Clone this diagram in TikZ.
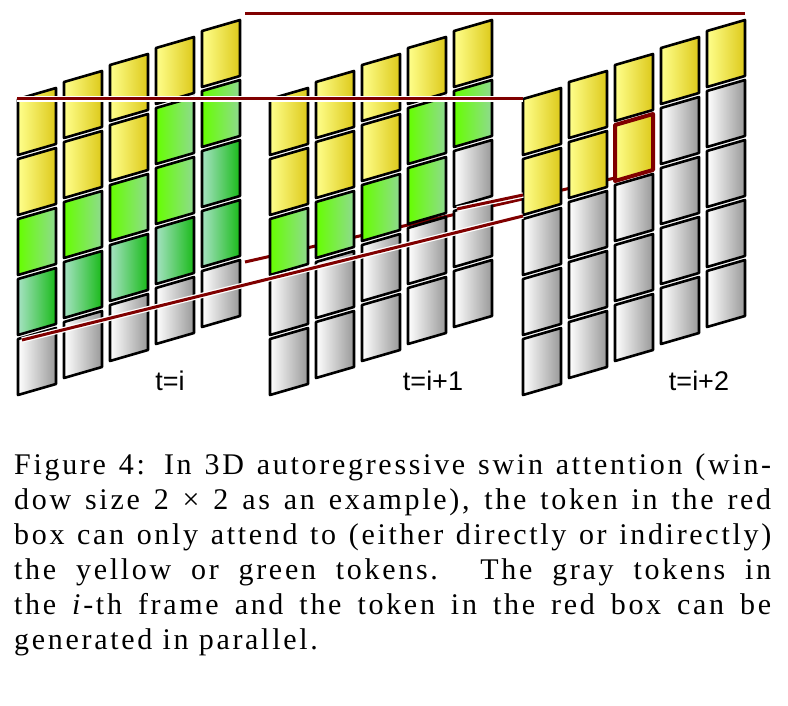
\documentclass[tikz,border=0pt]{standalone}
\usepackage{fontspec}
\setmainfont{Liberation Serif}
\newfontfamily\lblfont{Liberation Sans}
\newfontfamily\capfont[LetterSpace=9]{Liberation Serif}
\begin{document}
\begin{tikzpicture}[x=1pt,y=-1pt,
  cellY/.style={left color=yellow!45!white, right color=orange!20!yellow!85!black!90},
  cellL/.style={left color=green!60!yellow, right color=green!40!black!30!white!80!green},
  cellT/.style={left color=green!35!teal!35!white, right color=green!70!black!90},
  cellG/.style={left color=white, right color=black!40},
  redln/.style={draw=red!50!black, line width=3pt},
  halo/.style={draw=white, line width=5.5pt},
  lbl/.style={font=\lblfont\fontsize{27}{27}\selectfont}]
\useasboundingbox (0,0) rectangle (788,706);
\newcommand\mycell[4]{%
  \path[draw=black, line width=2.6pt, line join=round, \cst] ({#1+46*#3},{#2-17*#3+60*#4}) -- ++(38,-11) -- ++(0,56) -- ++(-38,11) -- cycle;}
\newcommand\myframe[3]{%
  \foreach \c/\r/\s in {#3} {\def\cst{\s}\mycell{#1}{#2}{\c}{\r}}}
% frame 1
\myframe{18}{99}{0/0/cellY,0/1/cellY,0/2/cellL,0/3/cellT,0/4/cellG,
 1/0/cellY,1/1/cellY,1/2/cellL,1/3/cellT,1/4/cellG,
 2/0/cellY,2/1/cellY,2/2/cellL,2/3/cellT,2/4/cellG,
 3/0/cellY,3/1/cellL,3/2/cellL,3/3/cellT,3/4/cellG,
 4/0/cellY,4/1/cellL,4/2/cellT,4/3/cellT,4/4/cellG}
\coordinate (a3) at (245,262); \coordinate (b3) at (615,178);
\draw[redln] (a3) -- (b3);
% frame 2
\myframe{270}{99}{0/0/cellY,0/1/cellY,0/2/cellL,0/3/cellG,0/4/cellG,
 1/0/cellY,1/1/cellY,1/2/cellL,1/3/cellG,1/4/cellG,
 2/0/cellY,2/1/cellY,2/2/cellL,2/3/cellG,2/4/cellG,
 3/0/cellY,3/1/cellL,3/2/cellL,3/3/cellG,3/4/cellG,
 4/0/cellY,4/1/cellL,4/2/cellG,4/3/cellG,4/4/cellG}
% frame 3
\myframe{523}{99}{0/0/cellY,0/1/cellY,0/2/cellG,0/3/cellG,0/4/cellG,
 1/0/cellY,1/1/cellY,1/2/cellG,1/3/cellG,1/4/cellG,
 2/0/cellY,2/1/cellY,2/2/cellG,2/3/cellG,2/4/cellG,
 3/0/cellY,3/1/cellG,3/2/cellG,3/3/cellG,3/4/cellG,
 4/0/cellY,4/1/cellG,4/2/cellG,4/3/cellG,4/4/cellG}
\draw[red!50!black, line width=4pt, line join=round] (615,125) -- ++(38,-11) -- ++(0,56) -- ++(-38,11) -- cycle;
% front lines
\coordinate (a1) at (245,14); \coordinate (b1) at (745,14);
\coordinate (a2) at (17,99); \coordinate (b2) at (523,99);
\coordinate (a4) at (22,340); \coordinate (b4) at (523,216);
\coordinate (a5) at (457,209); \coordinate (b5) at (523,195);
\draw[red!50!black, line width=3pt] (a1) -- (b1);
\draw[halo] (a2) -- (b2); \draw[redln] (a2) -- (b2);
\draw[halo] (a4) -- (b4); \draw[redln] (a4) -- (b4);
\draw[halo] (a5) -- (b5); \draw[redln] (a5) -- (b5);
% labels
\node[lbl] (l1) at (170,381) {t=i};
\node[lbl] (l2) at (433,381) {t=i+1};
\node[lbl] (l3) at (699,381) {t=i+2};
\node[anchor=north west, inner sep=0pt] (cap) at (14,453) {\parbox[t]{757pt}{\capfont\fontsize{30}{35}\selectfont
Figure 4: In 3D autoregressive swin attention (win-\linebreak dow size 2 × 2 as an example), the token in the red\linebreak box can only attend to (either directly or indirectly)\linebreak the yellow or green tokens. The gray tokens in\linebreak the \textit{i}-th frame and the token in the red box can be\linebreak generated in parallel.}};
\end{tikzpicture}
\end{document}
